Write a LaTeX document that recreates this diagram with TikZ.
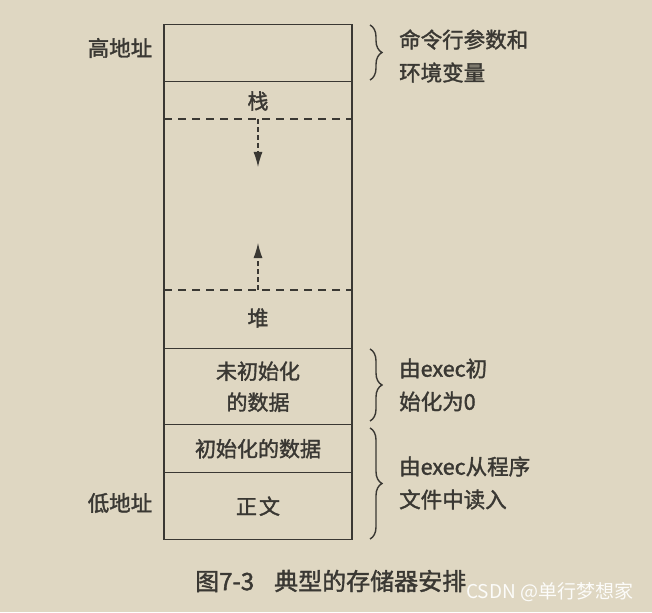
\documentclass[tikz,border=0pt]{standalone}
\usepackage{fontspec}
\setmainfont{Liberation Sans}
\newfontfamily\cjk[FakeBold=1.6]{Noto Sans CJK SC}
\newfontfamily\cjkplain{Noto Sans CJK SC}
\usetikzlibrary{decorations.pathreplacing,arrows.meta}
\definecolor{bg}{HTML}{DFD7C2}
\definecolor{ink}{HTML}{3A3833}
\tikzset{
  seg/.style={draw=ink, line width=1.4pt, minimum width=188pt, inner sep=0pt, anchor=north, font=\cjk\fontsize{21}{31}\selectfont, text=ink, align=center},
  lbl/.style={font=\cjk\fontsize{21.5}{33}\selectfont, text=ink, align=left, anchor=west, inner sep=0pt},
  addr/.style={font=\cjk\fontsize{21.5}{22}\selectfont, text=ink, inner sep=0pt},
  brc/.style={draw=ink, line width=1.4pt, decorate, decoration={brace, amplitude=12pt}},
  divider/.style={draw=ink, line width=1.3pt, dash pattern=on 8pt off 6pt},
  growarrow/.style={draw=ink, line width=1.1pt, dash pattern=on 5pt off 3pt, -{Latex[length=15pt,width=9pt]}}
}
\begin{document}
\begin{tikzpicture}[x=1pt,y=-1pt]
\fill[bg] (0,0) rectangle (652,612);
\useasboundingbox (0,0) rectangle (652,612);
% segments
\node[seg, minimum height=57pt] (args) at (258,24) {};
\node[seg, minimum height=267pt] (mid) at (258,81) {};
\node[seg, minimum height=76pt] (bss) at (258,348) {未初始化\\的数据};
\node[seg, minimum height=48pt] (data) at (258,424) {初始化的数据};
\node[seg, minimum height=67pt] (text) at (258,472) {正\hspace{2pt}文};
% stack / heap labels
\node[seg, draw=none, anchor=center] (stack) at (258,101) {栈};
\node[seg, draw=none, anchor=center] (heap) at (258,318) {堆};
% dashed dividers
\coordinate (s1) at (164,119); \coordinate (s2) at (352,119);
\coordinate (h1) at (164,290); \coordinate (h2) at (352,290);
\draw[divider] (s1) -- (s2);
\draw[divider] (h1) -- (h2);
% growth arrows
\coordinate (sa) at (258,119); \coordinate (sb) at (258,167);
\coordinate (ha) at (258,290); \coordinate (hb) at (258,243);
\draw[growarrow] (sa) -- (sb);
\draw[growarrow] (ha) -- (hb);
% addresses
\node[addr] (hi) at (120,48) {高地址};
\node[addr] (lo) at (120,503) {低地址};
% braces
\coordinate (b1a) at (370,25); \coordinate (b1b) at (370,80);
\coordinate (b2a) at (370,349); \coordinate (b2b) at (370,421);
\coordinate (b3a) at (370,428); \coordinate (b3b) at (370,539);
\draw[brc] (b1a) -- (b1b);
\draw[brc] (b2a) -- (b2b);
\draw[brc] (b3a) -- (b3b);
\node[lbl] (n1) at (399,56) {命令行参数和\\环境变量};
\node[lbl] (n2) at (399,385) {由exec初\\始化为0};
\node[lbl] (n3) at (399,483) {由exec从程序\\文件中读入};
% caption
\node[font=\cjk\fontsize{24}{24}\selectfont, text=ink, anchor=west, inner sep=0pt] (cap) at (195,581) {图7-3\hspace{20pt}典型的存储器安排};
\node[font=\cjkplain\fontsize{19}{19}\selectfont, text=white!92!bg, anchor=west, inner sep=0pt] (wm) at (466,592) {CSDN @单行梦想家};
\end{tikzpicture}
\end{document}
